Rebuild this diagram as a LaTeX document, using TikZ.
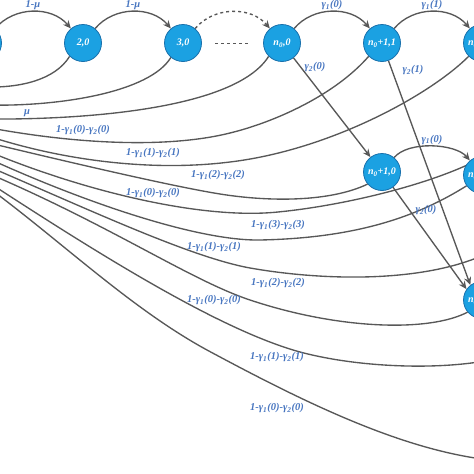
\documentclass[tikz,border=0pt]{standalone}
\usepackage{fontspec}
\setmainfont{Liberation Serif}
\usetikzlibrary{arrows.meta,backgrounds}
\definecolor{nodefill}{RGB}{27,161,226}
\definecolor{nodeline}{RGB}{24,112,172}
\definecolor{edgecol}{RGB}{88,88,88}
\definecolor{labcol}{RGB}{72,118,192}
\newcommand\gammalab[1]{1-γ\textsubscript{1}(#1)-γ\textsubscript{2}(#1)}
\begin{document}
\begin{tikzpicture}[x=1pt,y=-1pt,
  state/.style={circle,fill=nodefill,draw=nodeline,line width=0.8pt,minimum size=37pt,inner sep=0pt,text=white,font=\fontsize{10}{12}\selectfont\bfseries\itshape},
  edge/.style={draw=edgecol,line width=1.35pt},
  arr/.style={edge,-{Stealth[length=8pt,width=7pt]}},
  lab/.style={text=labcol,font=\fontsize{10.5}{12}\selectfont\bfseries\itshape,inner sep=1pt}]
\useasboundingbox (0,0) rectangle (474,474);
% states
\node[state] (L) at (-17,43) {1,0};
\node[state] (N2) at (83,43) {2,0};
\node[state] (N3) at (183,43) {3,0};
\node[state] (Nm) at (282,43) {n\textsubscript{0},0};
\node[state] (N11) at (382,43) {n\textsubscript{0}+1,1};
\node[state] (R1) at (482,43) {n\textsubscript{0}+2,2};
\node[state] (N10) at (382,172) {n\textsubscript{0}+1,0};
\node[state] (R2) at (482,175) {n\textsubscript{0}+2,1};
\node[state] (R3) at (482,300) {n\textsubscript{0}+2,0};
% free ends
\coordinate (d1) at (215,43);
\coordinate (d2) at (250,43);
\coordinate (l1) at (-15,87);
\coordinate (l2) at (-15,105);
\coordinate (l3) at (-15,119);
\coordinate (l4) at (-15,127);
\coordinate (l5) at (-15,135);
\coordinate (l6) at (-15,142);
\coordinate (l7) at (-15,150);
\coordinate (l8) at (-15,157);
\coordinate (l9) at (-15,165);
\coordinate (l10) at (-15,172);
\coordinate (l11) at (-15,180);
\coordinate (l12) at (-15,185);
\coordinate (r7) at (495,150);
\coordinate (r9) at (490,252);
\coordinate (r11) at (490,360);
\coordinate (r12) at (490,460);
\begin{pgfonlayer}{background}
\clip (0,0) rectangle (474,474);
% forward arcs
\draw[arr] (L) to[out=50,in=130] node[lab,above] (t1) {1-μ} (N2);
\draw[arr] (N2) to[out=50,in=130] node[lab,above] (t2) {1-μ} (N3);
\draw[arr,dashed] (N3) to[out=50,in=130] (Nm);
\draw[edge,dashed,line width=1pt] (d1) -- (d2);
\draw[arr] (Nm) to[out=50,in=130] node[lab,above] (t3) {γ\textsubscript{1}(0)} (N11);
\draw[arr] (N11) to[out=50,in=130] node[lab,above] (t4) {γ\textsubscript{1}(1)} (R1);
\draw[arr] (N10) to[out=50,in=130,looseness=0.75] node[lab,above] (t5) {γ\textsubscript{1}(0)} (R2);
% straight transitions
\draw[arr] (Nm) -- (N10);
\draw[arr] (N11) -- (R3.128);
\draw[arr] (N10) -- (R3.145);
% return curves
\draw[edge] (N2.225) .. controls (55,80) and (20,88) .. (l1);
\draw[edge] (N3.230) .. controls (150,92) and (60,107) .. (l2);
\draw[edge] (Nm.225) .. controls (235,110) and (80,120) .. (l3);
\draw[edge] (N11.225) .. controls (335,95) and (275,122) .. (230,133) .. controls (170,148) and (80,145) .. (l4);
\draw[edge] (R1.225) .. controls (430,95) and (330,150) .. (230,162) .. controls (150,172) and (60,160) .. (l5);
\draw[edge] (N10.220) .. controls (330,202) and (270,202) .. (220,194) .. controls (170,186) and (60,160) .. (l6);
\draw[edge] (r7) .. controls (450,180) and (350,205) .. (278,212) .. controls (200,220) and (80,190) .. (l7);
\draw[edge] (R2.215) .. controls (420,215) and (360,238) .. (260,240) .. controls (200,241) and (90,205) .. (l8);
\draw[edge] (r9) .. controls (430,282) and (330,282) .. (250,268) .. controls (190,257) and (90,210) .. (l9);
\draw[edge] (R3.220) .. controls (430,332) and (340,330) .. (250,300) .. controls (190,280) and (110,225) .. (l10);
\draw[edge] (r11) .. controls (440,370) and (360,368) .. (300,352) .. controls (220,330) and (100,255) .. (l11);
\draw[edge] (r12) .. controls (400,450) and (300,400) .. (207,350) .. controls (130,308) and (60,240) .. (l12);
\end{pgfonlayer}
% labels
\node[lab] (s1) at (315,67) {γ\textsubscript{2}(0)};
\node[lab] (s2) at (413,70) {γ\textsubscript{2}(1)};
\node[lab] (s3) at (426,210) {γ\textsubscript{2}(0)};
\node[lab] (mu) at (27,113) {μ};
\node[lab] (lA) at (83,130) {\gammalab{0}};
\node[lab] (lB) at (153,153) {\gammalab{1}};
\node[lab] (lC) at (218,175) {\gammalab{2}};
\node[lab] (lD) at (153,193) {\gammalab{0}};
\node[lab] (lE) at (278,225) {\gammalab{3}};
\node[lab] (lF) at (214,247) {\gammalab{1}};
\node[lab] (lG) at (278,283) {\gammalab{2}};
\node[lab] (lH) at (214,300) {\gammalab{0}};
\node[lab] (lI) at (277,357) {\gammalab{1}};
\node[lab] (lJ) at (277,408) {\gammalab{0}};
\end{tikzpicture}
\end{document}
